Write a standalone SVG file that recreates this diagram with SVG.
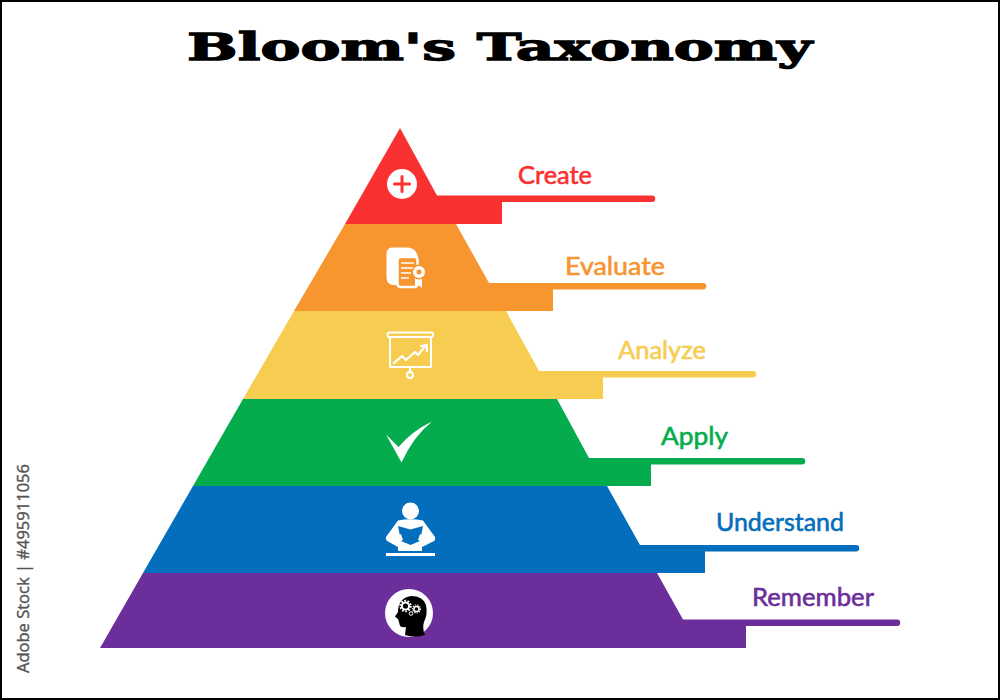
<svg xmlns="http://www.w3.org/2000/svg" width="1000" height="700" viewBox="0 0 1000 700">
<style>
.title{font-family:"DejaVu Serif","Liberation Serif",serif;font-weight:700;font-size:38px;fill:#000;stroke:#000;stroke-width:1.300px}
.lbl{font-family:Lato,"Liberation Sans",sans-serif;font-weight:400;font-size:25px;stroke-width:.6px}
.side{font-family:"Open Sans","Liberation Sans",sans-serif;font-size:17px;fill:#555;stroke:#555;stroke-width:.4px}
.w{fill:#fff}
.ol{fill:none;stroke:#fff;stroke-linecap:round;stroke-linejoin:round}
</style>
<rect x="1" y="1" width="998" height="698" fill="#fff" stroke="#000" stroke-width="2"/>
<text class="title" x="187" y="60" textLength="625" lengthAdjust="spacingAndGlyphs">Bloom's Taxonomy</text>
<text class="side" transform="translate(29 673) rotate(-90)" textLength="209" lengthAdjust="spacingAndGlyphs">Adobe Stock | #495911056</text>

<g id="create">
<path d="M400 128L345 224H502V202H652a3.200 3.200 0 0 0 0-6.500H437Z" fill="#F93131"/>
<circle cx="402" cy="184" r="15" class="w"/>
<path d="M402 176.500V191.500M394.500 184H409.500" fill="none" stroke="#F93131" stroke-width="3" stroke-linecap="round"/>
<text class="lbl" x="518" y="184" textLength="74" lengthAdjust="spacingAndGlyphs" fill="#F93131" stroke="#F93131">Create</text>
</g>

<g id="evaluate">
<path d="M345 224L294 311H553V289.500H703a3 3 0 0 0 0-6.500H489L456 224Z" fill="#F7952F"/>
<path d="M392 247.500H408Q416 248 418 257V268H414V285H394Q386.500 285 386.500 277V254Q386.500 248 392 247.500Z" class="w"/>
<rect x="397.500" y="257" width="20" height="30" rx="3" fill="#F7952F" stroke="#fff" stroke-width="2.500"/>
<path d="M401 263H414M401 268H414M401 273H411M401 278H409" fill="none" stroke="#fff" stroke-width="1.600"/>
<path d="M415 276V288L418.500 285L422 288V276Z" class="w"/>
<circle cx="419" cy="272" r="7.500" fill="#F7952F"/>
<circle cx="419" cy="272" r="6" class="w"/>
<circle cx="419" cy="272" r="2.500" fill="#F7952F"/>
<text class="lbl" x="565" y="275" textLength="100" lengthAdjust="spacingAndGlyphs" fill="#F7952F" stroke="#F7952F">Evaluate</text>
</g>

<g id="analyze">
<path d="M294 311L243 399H603V377.500H753a3 3 0 0 0 0-6.500H539L506 311Z" fill="#F7CD51"/>
<rect x="387.500" y="332.500" width="45.500" height="4.500" rx="2" class="ol" stroke-width="2"/>
<path d="M390 337V367H431V337M410 367V372" class="ol" stroke-width="2"/>
<circle cx="410" cy="375" r="3" class="ol" stroke-width="2"/>
<path d="M394 363L402 356L406 360L415 352L418 355L426 345M421 346L426.500 345L427 351" class="ol" stroke-width="2.200"/>
<text class="lbl" x="618" y="359" textLength="88" lengthAdjust="spacingAndGlyphs" fill="#F7CD51" stroke="#F7CD51">Analyze</text>
</g>

<g id="apply">
<path d="M243 399L193 486H651V464.500H802a3 3 0 0 0 0-6.500H589L557 399Z" fill="#05AC4E"/>
<path d="M386 434.500L398.500 447Q412 431 432 421.500Q413 437 401.500 462.500Z" class="w"/>
<text class="lbl" x="661" y="445" textLength="67" lengthAdjust="spacingAndGlyphs" fill="#05AC4E" stroke="#05AC4E">Apply</text>
</g>

<g id="understand">
<path d="M193 486L143 573H705V551.500H856a3 3 0 0 0 0-6.500H640L607 486Z" fill="#036EBB"/>
<circle cx="410.500" cy="511" r="8.500" class="w"/>
<path d="M398 520.500Q410.500 518 423 520.500L435 537Q436 541 432 542L422 547V551H398V547L389 542Q385 540 386 537Z" class="w"/>
<path d="M398 526L410.500 529.500L423 526L420 541L410.500 545L401 541Z" fill="#036EBB"/>
<path d="M392 539L401 534L403 540L394 544.500ZM429 539L420 534L418 540L427 544.500Z" class="w"/>
<rect x="386" y="553" width="49" height="3" class="w"/>
<text class="lbl" x="716" y="531" textLength="128" lengthAdjust="spacingAndGlyphs" fill="#036EBB" stroke="#036EBB">Understand</text>
</g>

<g id="remember">
<path d="M143 573L100 648H746V626H897a3.200 3.200 0 0 0 0-6.500H683L657 573Z" fill="#6C2E9A"/>
<circle cx="409" cy="613" r="24" class="w"/>
<path d="M411 596Q423 596 426 605Q428 614 424 622Q422 628 425 635Q414 638 405 635L406 627Q400 628 399.500 624Q399 621 398 619L395 616.500L398 612Q398 598 411 596Z" fill="#000"/>
<circle cx="405.500" cy="606" r="3.600" fill="none" stroke="#fff" stroke-width="2"/>
<circle cx="405.500" cy="606" r="5.300" fill="none" stroke="#fff" stroke-width="1.800" stroke-dasharray="1.800 1.500"/>
<circle cx="416.500" cy="609" r="2.600" fill="none" stroke="#fff" stroke-width="1.500"/>
<circle cx="416.500" cy="609" r="4" fill="none" stroke="#fff" stroke-width="1.200" stroke-dasharray="1.200 1.200"/>
<circle cx="411" cy="613.500" r="1.800" fill="none" stroke="#fff" stroke-width="1"/>
<text class="lbl" x="752" y="606" textLength="122" lengthAdjust="spacingAndGlyphs" fill="#6C2E9A" stroke="#6C2E9A">Remember</text>
</g>
</svg>
